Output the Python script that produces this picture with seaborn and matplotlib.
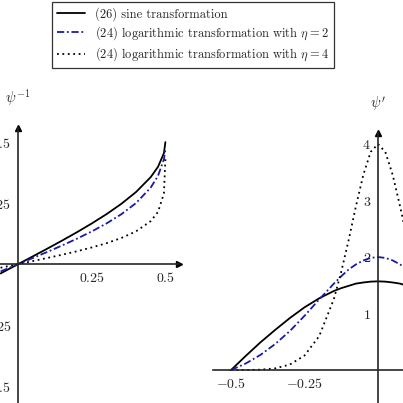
import numpy as np
import pandas as pd
import matplotlib
matplotlib.use("Agg")
import matplotlib.pyplot as plt
import seaborn as sns

sns.set_style("white")
plt.rcParams["font.family"] = ["cmr10", "DejaVu Serif"]
plt.rcParams["mathtext.fontset"] = "cm"
plt.rcParams["axes.formatter.use_mathtext"] = True

# ---- data ----
# left panel: inverse transformation psi^{-1}(x)
x_inv = [-0.06, -0.05, 0.0, 0.05, 0.1, 0.15, 0.2, 0.25, 0.3, 0.35, 0.4, 0.45, 0.475, 0.495, 0.5]
inv_sine = [-0.0385, -0.0319, 0.0, 0.0319, 0.0641, 0.0970, 0.1310, 0.1667, 0.2048, 0.2468, 0.2952, 0.3564, 0.399, 0.455, 0.5]
inv_eta2 = [-0.0302, -0.0251, 0.0, 0.0251, 0.0505, 0.0768, 0.1044, 0.134, 0.1667, 0.2042, 0.25, 0.3134, 0.362, 0.43, 0.47]
inv_eta4 = [-0.0151, -0.0125, 0.0, 0.0125, 0.0253, 0.0386, 0.0527, 0.0682, 0.0857, 0.1068, 0.134, 0.176, 0.214, 0.29, 0.43]

# right panel: derivative psi'(t)
t_der = [-0.5, -0.45, -0.4, -0.35, -0.3, -0.25, -0.2, -0.15, -0.125, -0.1, -0.075, -0.05, -0.025,
         0.0, 0.025, 0.05, 0.075, 0.1]
der_sine = [0.0, 0.25, 0.49, 0.71, 0.92, 1.11, 1.27, 1.40, 1.45, 1.49, 1.53, 1.55, 1.565,
            1.57, 1.565, 1.55, 1.53, 1.49]
der_eta2 = [0.0, 0.116, 0.268, 0.46, 0.69, 0.96, 1.25, 1.53, 1.66, 1.78, 1.87, 1.94, 1.985,
            2.0, 1.985, 1.94, 1.87, 1.78]
der_eta4 = [0.0, 0.0007, 0.0068, 0.030, 0.097, 0.257, 0.601, 1.257, 1.74, 2.296, 2.90, 3.454, 3.86,
            4.0, 3.86, 3.454, 2.90, 2.296]

labels = ["(26) sine transformation",
          r"(24) logarithmic transformation with $\eta=2$",
          r"(24) logarithmic transformation with $\eta=4$"]

inv_df = pd.concat([pd.DataFrame({"x": x_inv, "y": v, "curve": lab})
                    for v, lab in zip([inv_sine, inv_eta2, inv_eta4], labels)])
der_df = pd.concat([pd.DataFrame({"x": t_der, "y": v, "curve": lab})
                    for v, lab in zip([der_sine, der_eta2, der_eta4], labels)])

palette = {labels[0]: "black", labels[1]: "#1a1aa8", labels[2]: "black"}
dashes = {labels[0]: "", labels[1]: (4, 1.5, 1, 1.5), labels[2]: (1, 2)}

fig = plt.figure(figsize=(4.03, 4.03), dpi=100)
ax1 = fig.add_axes([-0.393, -0.0184, 0.837, 0.702])
ax2 = fig.add_axes([0.5295, -0.0164, 0.8169, 0.687])


def style_axes(ax, ylabel):
    for s in ["top", "right"]:
        ax.spines[s].set_visible(False)
    ax.spines["left"].set_position(("data", 0))
    ax.spines["bottom"].set_position(("data", 0))
    for s in ["left", "bottom"]:
        ax.spines[s].set_linewidth(1.2)
    ax.plot(1, 0, ">k", ms=4, transform=ax.get_yaxis_transform(), clip_on=False)
    ax.plot(0, 1, "^k", ms=4, transform=ax.get_xaxis_transform(), clip_on=False)
    ax.tick_params(direction="inout", length=6, width=0.8, labelsize=10, pad=2)
    ax.text(0, 1.07, ylabel, transform=ax.get_xaxis_transform(),
            ha="center", va="bottom", fontsize=10.5)
    ax.set_xlabel("")
    ax.set_ylabel("")
    ax.patch.set_alpha(0)


sns.lineplot(data=inv_df, x="x", y="y", hue="curve", style="curve", palette=palette,
             dashes=dashes, lw=1.3, ax=ax1, legend=False, sort=False)
ax1.set_xlim(-0.6, 0.546)
ax1.set_ylim(-0.6, 0.56)
ax1.set_xticks([0.25, 0.5], ["$0.25$", "$0.5$"])
ax1.set_yticks([-0.5, -0.25, 0.25, 0.5], ["$-0.5$", "$-0.25$", "$0.25$", "$0.5$"])
style_axes(ax1, r"$\psi^{-1}$")

sns.lineplot(data=der_df, x="x", y="y", hue="curve", style="curve", palette=palette,
             dashes=dashes, lw=1.3, ax=ax2, legend=True, sort=False)
ax2.set_xlim(-0.56, 0.56)
ax2.set_ylim(-0.7, 4.2)
ax2.set_xticks([-0.5, -0.25, 0.25, 0.5], ["$-0.5$", "$-0.25$", "$0.25$", "$0.5$"])
ax2.set_yticks([1, 2, 3, 4], ["$1$", "$2$", "$3$", "$4$"])
style_axes(ax2, r"$\psi'$")

handles, labs = ax2.get_legend_handles_labels()
ax2.get_legend().remove()
leg = fig.legend(handles, labs, loc="upper center", bbox_to_anchor=(0.479, 1.01),
                 fontsize=9, frameon=True, fancybox=False, edgecolor="black",
                 handlelength=2.2, labelspacing=0.28, borderpad=0.4)
leg.get_frame().set_linewidth(0.9)

fig.savefig("out.png", dpi=100)
